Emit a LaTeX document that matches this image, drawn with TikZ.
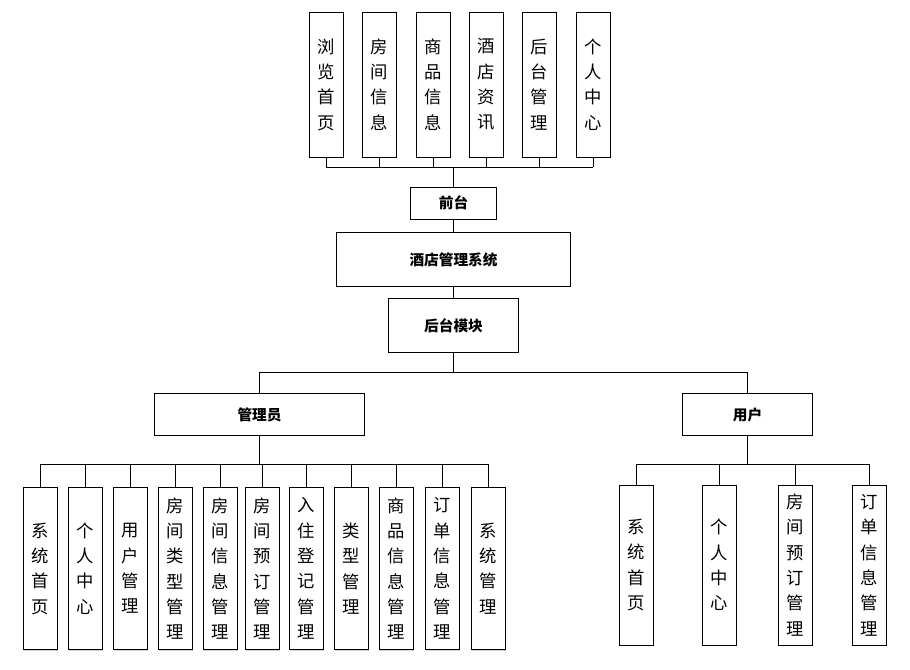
\documentclass[tikz,border=0pt]{standalone}
\usepackage{fontspec}
\setmainfont{Noto Sans CJK SC}
\usetikzlibrary{shadows}
\begin{document}
\begin{tikzpicture}[x=0.75pt,y=-0.75pt,
  vbox/.style={draw,line width=0.7pt,fill=white,minimum width=25.5pt,align=center,inner sep=0pt,
    font=\fontsize{13pt}{19pt}\selectfont,drop shadow={shadow xshift=1pt,shadow yshift=-1pt,fill=gray!70}},
  hbox/.style={draw,line width=0.7pt,fill=white,inner sep=0pt,font=\fontsize{11pt}{13pt}\selectfont\bfseries},
  ln/.style={line width=0.7pt}]
\useasboundingbox (0,0) rectangle (910,670);
% top
\foreach \n/\x/\t in {t1/326/浏\\览\\首\\页,t2/379/房\\间\\信\\息,t3/433/商\\品\\信\\息,t4/486/酒\\店\\资\\讯,t5/539/后\\台\\管\\理,t6/593/个\\人\\中\\心}
  \node[vbox,minimum height=108.75pt] (\n) at (\x,84.5) {\t};
\node[hbox,minimum width=65pt,minimum height=24pt] (qt) at (453.5,203) {前台};
\node[hbox,minimum width=175pt,minimum height=40pt] (sys) at (453.5,259.5) {酒店管理系统};
\node[hbox,minimum width=97pt,minimum height=40pt] (ht) at (453.5,325.5) {后台模块};
\node[hbox,minimum width=157pt,minimum height=31pt] (adm) at (259.5,414.5) {管理员};
\node[hbox,minimum width=97pt,minimum height=31pt] (usr) at (747.5,414.5) {用户};
\coordinate (tb) at (453.5,167);
\foreach \n in {t1,t2,t3,t4,t5,t6} \draw[ln] (\n.south) -- (\n.south |- tb);
\draw[ln] (t1.south |- tb) -- (t6.south |- tb);
\draw[ln] (tb) -- (qt.north);
\draw[ln] (qt.south) -- (sys.north);
\draw[ln] (sys.south) -- (ht.north);
\coordinate (mb) at (453.5,372);
\draw[ln] (ht.south) -- (mb);
\draw[ln] (adm.north |- mb) -- (usr.north |- mb);
\draw[ln] (adm.north |- mb) -- (adm.north);
\draw[ln] (usr.north |- mb) -- (usr.north);
% admin children
\coordinate (ab) at (261,464);
\foreach \n/\x/\t in {a1/40/系\\统\\首\\页,a2/85/个\\人\\中\\心,a3/130/用\\户\\管\\理,a4/175/房\\间\\类\\型\\管\\理,a5/220/房\\间\\信\\息\\管\\理,a6/262/房\\间\\预\\订\\管\\理,a7/306/入\\住\\登\\记\\管\\理,a8/351/类\\型\\管\\理,a9/396/商\\品\\信\\息\\管\\理,a10/442/订\\单\\信\\息\\管\\理,a11/488/系\\统\\管\\理}{
  \node[vbox,minimum height=122pt] (\n) at (\x,568.5) {\t};
  \draw[ln] (\n.north) -- (\n.north |- ab);}
\draw[ln] (a1.north |- ab) -- (a11.north |- ab);
\draw[ln] (adm.south) -- (adm.south |- ab);
% user children
\coordinate (ub) at (747.5,464);
\foreach \n/\x/\t in {u1/636/系\\统\\首\\页,u2/719/个\\人\\中\\心,u3/795/房\\间\\预\\订\\管\\理,u4/869/订\\单\\信\\息\\管\\理}{
  \node[vbox,minimum height=120pt] (\n) at (\x,565) {\t};
  \draw[ln] (\n.north) -- (\n.north |- ub);}
\draw[ln] (u1.north |- ub) -- (u4.north |- ub);
\draw[ln] (usr.south) -- (usr.south |- ub);
\end{tikzpicture}
\end{document}
